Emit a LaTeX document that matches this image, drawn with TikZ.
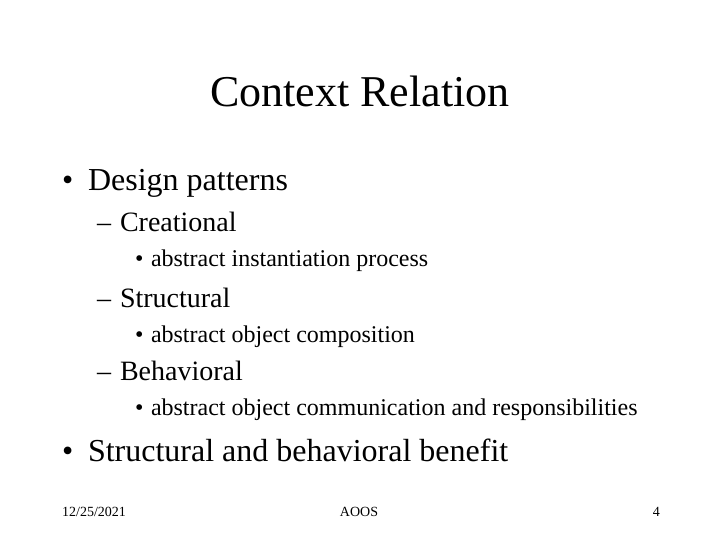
\documentclass[tikz,border=0pt]{standalone}
\usepackage{fontspec}
\setmainfont{Liberation Serif}
\usetikzlibrary{positioning}

\begin{document}
\begin{tikzpicture}[x=1pt,y=-1pt,
    txt/.style={anchor=base west,inner sep=0pt,outer sep=0pt},
    lvla/.style={txt,font=\fontsize{32}{38}\selectfont},
    lvlb/.style={txt,font=\fontsize{28}{34}\selectfont},
    lvlc/.style={txt,font=\fontsize{24}{29}\selectfont},
    foot/.style={anchor=base,inner sep=0pt,font=\fontsize{14}{17}\selectfont}]
  \useasboundingbox[fill=white] (0,0) rectangle (720,540);
  \node[anchor=base,inner sep=0pt,font=\fontsize{44}{53}\selectfont] (title) at (360,107) {Context Relation};

  \node[lvla] (b1) at (62,191) {•};
  \node[lvla] (design) at (88,191) {Design patterns};
  \node[lvlb] (d1) at (97,231) {–};
  \node[lvlb] (creat) at (120,231) {Creational};
  \node[lvlc] (c1) at (135,266) {•};
  \node[lvlc] (inst) at (151,266) {abstract instantiation process};
  \node[lvlb] (d2) at (97,307) {–};
  \node[lvlb] (struct) at (120,307) {Structural};
  \node[lvlc] (c2) at (135,342) {•};
  \node[lvlc] (comp) at (151,342) {abstract object composition};
  \node[lvlb] (d3) at (97,380) {–};
  \node[lvlb] (behav) at (120,380) {Behavioral};
  \node[lvlc] (c3) at (135,415) {•};
  \node[lvlc] (comm) at (151,415) {abstract object communication and responsibilities};
  \node[lvla] (b2) at (62,461) {•};
  \node[lvla] (benefit) at (88,461) {Structural and behavioral benefit};

  \node[foot,anchor=base west] (date) at (62,516) {12/25/2021};
  \node[foot] (aoos) at (359,516) {AOOS};
  \node[foot,anchor=base east] (page) at (660,516) {4};
\end{tikzpicture}
\end{document}
